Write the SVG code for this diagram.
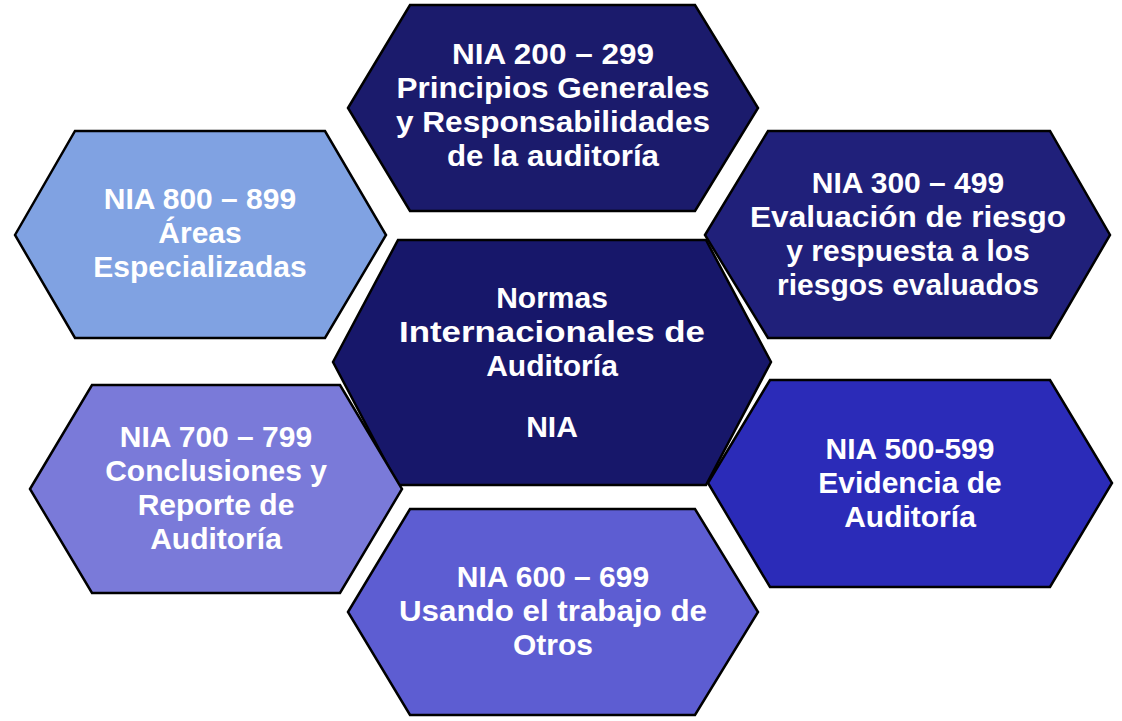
<svg xmlns="http://www.w3.org/2000/svg" width="1122" height="721" viewBox="0 0 1122 721">
<style>
.h{stroke:#000;stroke-width:2.5}
text{font-family:"Liberation Sans",Arial,sans-serif;font-weight:bold;font-size:30px;fill:#fff;text-anchor:middle}
</style>
<rect width="1122" height="721" fill="#fff"/>
<g id="n200"><polygon class="h" fill="#1b1b6c" points="348,108 410,5 695,5 758,108 695,211 410,211"/>
<text x="553" y="64" textLength="202" lengthAdjust="spacingAndGlyphs">NIA 200 – 299</text><text x="553" y="98" textLength="313" lengthAdjust="spacingAndGlyphs">Principios Generales</text><text x="553" y="132" textLength="314" lengthAdjust="spacingAndGlyphs">y Responsabilidades</text><text x="553" y="166" textLength="212" lengthAdjust="spacingAndGlyphs">de la auditoría</text></g>
<g id="n800"><polygon class="h" fill="#80a2e2" points="15,235 75,131 325,131 386,235 325,338 75,338"/>
<text x="200" y="209">NIA 800 – 899</text><text x="200" y="243">Áreas</text><text x="200" y="277">Especializadas</text></g>
<g id="n300"><polygon class="h" fill="#20207a" points="705,235 768,131 1050,131 1110,235 1050,338 768,338"/>
<text x="908" y="193">NIA 300 – 499</text><text x="908" y="227" textLength="316" lengthAdjust="spacingAndGlyphs">Evaluación de riesgo</text><text x="908" y="261">y respuesta a los</text><text x="908" y="295">riesgos evaluados</text></g>
<g id="center"><polygon class="h" fill="#17176a" points="333,362 398,240 706,240 771,362 706,485 398,485"/>
<text x="552" y="308">Normas</text><text x="552" y="342" textLength="306" lengthAdjust="spacingAndGlyphs">Internacionales de</text><text x="552" y="376">Auditoría</text><text x="552" y="437">NIA</text></g>
<g id="n700"><polygon class="h" fill="#7a7ad9" points="30,489 92,385 340,385 402,489 340,593 92,593"/>
<text x="216" y="447">NIA 700 – 799</text><text x="216" y="481">Conclusiones y</text><text x="216" y="515">Reporte de</text><text x="216" y="549">Auditoría</text></g>
<g id="n500"><polygon class="h" fill="#2b2bb8" points="708,483 770,380 1050,380 1112,483 1050,587 770,587"/>
<text x="910" y="459">NIA 500-599</text><text x="910" y="493">Evidencia de</text><text x="910" y="527">Auditoría</text></g>
<g id="n600"><polygon class="h" fill="#5d5dd2" points="348,612 410,509 695,509 758,612 695,715 410,715"/>
<text x="553" y="587">NIA 600 – 699</text><text x="553" y="621" textLength="308" lengthAdjust="spacingAndGlyphs">Usando el trabajo de</text><text x="553" y="655">Otros</text></g>
<g id="connectors"/>
</svg>
